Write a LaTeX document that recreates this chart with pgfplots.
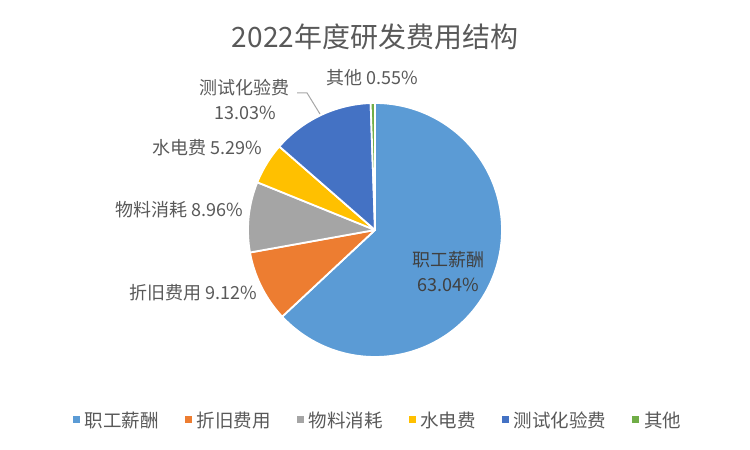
\documentclass[border=0pt]{standalone}
\usepackage{pgfplots}
\pgfplotsset{compat=1.18}
\usepackage{pgfplotstable}
\usepackage{fontspec}
\setmainfont{Noto Sans CJK SC}
\definecolor{slice0}{HTML}{5B9BD5}
\definecolor{slice1}{HTML}{ED7D31}
\definecolor{slice2}{HTML}{A5A5A5}
\definecolor{slice3}{HTML}{FFC000}
\definecolor{slice4}{HTML}{4472C4}
\definecolor{slice5}{HTML}{70AD47}
\definecolor{txt}{HTML}{595959}
\definecolor{txtdark}{HTML}{404040}
\definecolor{leader}{HTML}{A6A6A6}

\pgfplotstableread{
name value
a 63.04
b 9.12
c 8.96
d 5.29
e 13.03
f 0.55
}\piedata

\newcommand\lab{\fontsize{18bp}{25bp}\selectfont}

\begin{document}
\begin{tikzpicture}
\begin{axis}[
  scale only axis, width=750bp, height=450bp,
  xmin=-2.9528, xmax=2.9528, ymin=-1.7323, ymax=1.8110,
  hide axis, clip=false,
  legend columns=-1,
  legend style={draw=none, fill=none, at={(0.504,0.0667)}, anchor=center,
    font=\fontsize{18.5bp}{22bp}\selectfont, text=txt,
    /tikz/every odd column/.append style={column sep=3bp},
    /tikz/every even column/.append style={column sep=24bp}},
  legend image code/.code={\fill[#1,draw=none] (0bp,-3.5bp) rectangle (7bp,3.5bp);},
]
\path (rel axis cs:0,0) rectangle (rel axis cs:1,1);
% total
\def\total{0}
\pgfplotsforeachungrouped \i in {0,...,5}{%
  \pgfplotstablegetelem{\i}{value}\of\piedata
  \pgfmathsetmacro\total{\total+\pgfplotsretval}%
}
\def\cum{0}
\pgfplotsforeachungrouped \i in {0,...,5}{%
  \pgfplotstablegetelem{\i}{value}\of\piedata
  \let\val\pgfplotsretval
  \pgfmathsetmacro\angA{90-((\cum+\val)/\total)*360}%
  \pgfmathsetmacro\angB{90-(\cum/\total)*360}%
  \pgfmathsetmacro\cum{\cum+\val}%
  \edef\doplot{\noexpand\addplot[fill=slice\i, draw=white, line width=1.8bp, line join=round, domain=\angA:\angB, samples=120] ({cos(x)},{sin(x)}) -- (axis cs:0,0) -- cycle;}%
  \doplot
}
\legend{职工薪酬,折旧费用,物料消耗,水电费,测试化验费,其他}

% title
\node[text=txt, font=\fontsize{28bp}{32bp}\selectfont] at (rel axis cs:0.5,0.918) {2022年度研发费用结构};

% data labels
\node[text=txtdark, font=\lab, align=center] at (axis cs:0.575,-0.331) {职工薪酬\\63.04\%};
\node[text=txt, font=\lab, anchor=east, inner sep=0pt] at (axis cs:-0.929,-0.496) {折旧费用 9.12\%};
\node[text=txt, font=\lab, anchor=east, inner sep=0pt] at (axis cs:-1.04,0.157) {物料消耗 8.96\%};
\node[text=txt, font=\lab, anchor=east, inner sep=0pt] at (axis cs:-0.89,0.646) {水电费 5.29\%};
\node[text=txt, font=\lab, align=center] at (axis cs:-1.024,1.024) {测试化验费\\13.03\%};
\node[text=txt, font=\lab] at (axis cs:-0.02,1.197) {其他 0.55\%};
\draw[leader, line width=1bp] (axis cs:-0.614,1.079) -- (axis cs:-0.535,1.079) -- (axis cs:-0.433,0.913);
\end{axis}
\end{tikzpicture}
\end{document}
